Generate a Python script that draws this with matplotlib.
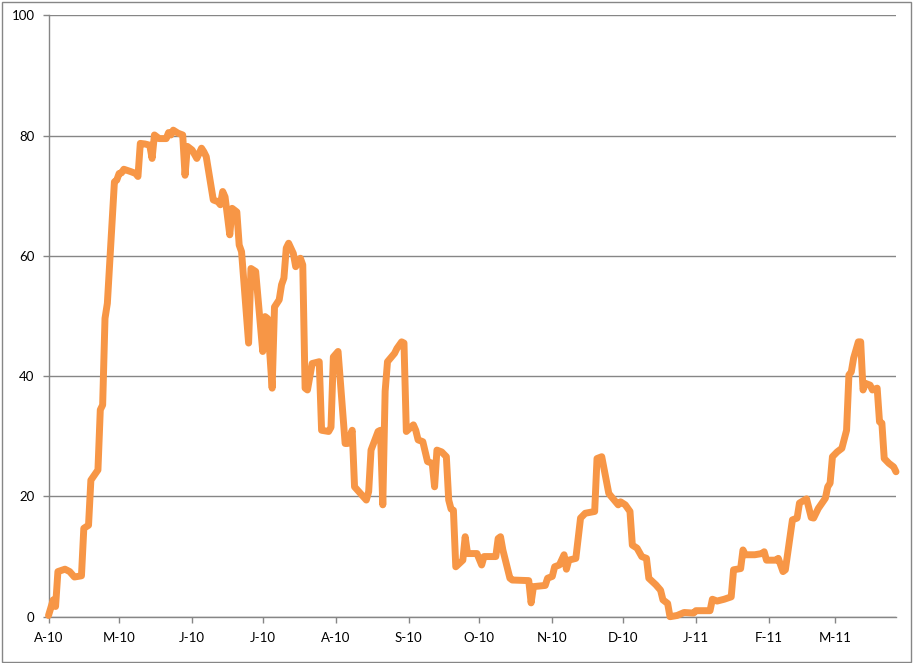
import numpy as np
import pandas as pd
import matplotlib
matplotlib.use('Agg')
import matplotlib.pyplot as plt
import matplotlib.dates as mdates
from matplotlib.patches import Rectangle

# 데이터
dates = [
    '2010-04-01', '2010-04-03', '2010-04-04', '2010-04-05', '2010-04-08', '2010-04-10',
    '2010-04-12', '2010-04-15', '2010-04-16', '2010-04-18', '2010-04-19', '2010-04-22',
    '2010-04-23', '2010-04-24', '2010-04-25', '2010-04-26', '2010-04-29', '2010-04-30',
    '2010-05-01', '2010-05-02', '2010-05-03', '2010-05-06', '2010-05-08', '2010-05-09',
    '2010-05-10', '2010-05-12', '2010-05-14', '2010-05-15', '2010-05-16', '2010-05-18',
    '2010-05-21', '2010-05-22', '2010-05-23', '2010-05-24', '2010-05-26', '2010-05-28',
    '2010-05-29', '2010-05-30', '2010-06-01', '2010-06-03', '2010-06-05', '2010-06-06',
    '2010-06-07', '2010-06-10', '2010-06-12', '2010-06-13', '2010-06-14', '2010-06-15',
    '2010-06-17', '2010-06-18', '2010-06-20', '2010-06-21', '2010-06-22', '2010-06-25',
    '2010-06-26', '2010-06-28', '2010-07-01', '2010-07-02', '2010-07-03', '2010-07-05',
    '2010-07-06', '2010-07-08', '2010-07-09', '2010-07-10', '2010-07-11', '2010-07-12',
    '2010-07-14', '2010-07-15', '2010-07-17', '2010-07-18', '2010-07-19', '2010-07-20',
    '2010-07-22', '2010-07-25', '2010-07-26', '2010-07-29', '2010-07-30', '2010-07-31',
    '2010-08-02', '2010-08-05', '2010-08-06', '2010-08-08', '2010-08-09', '2010-08-14',
    '2010-08-15', '2010-08-16', '2010-08-19', '2010-08-20', '2010-08-21', '2010-08-22',
    '2010-08-23', '2010-08-26', '2010-08-27', '2010-08-29', '2010-08-30', '2010-08-31',
    '2010-09-03', '2010-09-04', '2010-09-05', '2010-09-07', '2010-09-09', '2010-09-11',
    '2010-09-12', '2010-09-13', '2010-09-15', '2010-09-17', '2010-09-18', '2010-09-19',
    '2010-09-20', '2010-09-21', '2010-09-24', '2010-09-25', '2010-09-26', '2010-09-30',
    '2010-10-02', '2010-10-03', '2010-10-08', '2010-10-09', '2010-10-10', '2010-10-11',
    '2010-10-14', '2010-10-15', '2010-10-22', '2010-10-23', '2010-10-24', '2010-10-29',
    '2010-10-30', '2010-11-01', '2010-11-02', '2010-11-04', '2010-11-06', '2010-11-07',
    '2010-11-08', '2010-11-11', '2010-11-13', '2010-11-15', '2010-11-19', '2010-11-20',
    '2010-11-22', '2010-11-25', '2010-11-26', '2010-11-29', '2010-11-30', '2010-12-02',
    '2010-12-04', '2010-12-05', '2010-12-07', '2010-12-09', '2010-12-11', '2010-12-12',
    '2010-12-15', '2010-12-17', '2010-12-18', '2010-12-20', '2010-12-21', '2010-12-24',
    '2010-12-27', '2010-12-31', '2011-01-01', '2011-01-07', '2011-01-08', '2011-01-10',
    '2011-01-13', '2011-01-16', '2011-01-17', '2011-01-20', '2011-01-21', '2011-01-22',
    '2011-01-26', '2011-01-29', '2011-01-30', '2011-01-31', '2011-02-04', '2011-02-05',
    '2011-02-07', '2011-02-08', '2011-02-11', '2011-02-13', '2011-02-14', '2011-02-17',
    '2011-02-19', '2011-02-20', '2011-02-22', '2011-02-25', '2011-02-26', '2011-02-27',
    '2011-02-28', '2011-03-02', '2011-03-04', '2011-03-06', '2011-03-07', '2011-03-08',
    '2011-03-09', '2011-03-11', '2011-03-12', '2011-03-13', '2011-03-14', '2011-03-16',
    '2011-03-17', '2011-03-19', '2011-03-20', '2011-03-21', '2011-03-22', '2011-03-24',
    '2011-03-26', '2011-03-27',
]
values = [
    0.2, 2.8, 1.7, 7.5, 7.9, 7.5,
    6.6, 6.8, 14.7, 15.2, 22.7, 24.4,
    34.4, 35.2, 49.6, 52.1, 72.3, 72.6,
    73.7, 73.8, 74.4, 74.0, 73.7, 73.2,
    78.7, 78.6, 78.4, 76.2, 80.1, 79.5,
    79.5, 80.5, 80.1, 80.9, 80.4, 80.1,
    73.4, 78.2, 77.6, 76.2, 77.9, 77.3,
    76.5, 69.3, 69.0, 68.5, 70.7, 69.8,
    63.5, 67.9, 67.3, 61.8, 60.7, 45.5,
    57.9, 57.4, 44.1, 49.9, 49.6, 38.0,
    51.5, 52.7, 55.2, 56.3, 61.3, 62.1,
    60.4, 58.2, 59.6, 58.5, 38.0, 37.7,
    42.1, 42.4, 31.0, 30.8, 31.5, 43.2,
    44.1, 28.8, 28.8, 31.0, 21.6, 19.4,
    20.8, 27.7, 30.8, 31.0, 18.6, 37.5,
    42.4, 43.8, 44.6, 45.7, 45.5, 30.8,
    31.9, 31.0, 29.4, 29.1, 25.8, 25.5,
    21.6, 27.7, 27.4, 26.6, 19.4, 17.9,
    17.7, 8.3, 9.4, 13.3, 10.5, 10.5,
    8.6, 10.0, 10.0, 13.0, 13.3, 11.1,
    6.4, 6.1, 6.0, 2.3, 5.0, 5.2,
    6.4, 6.7, 8.3, 8.6, 10.3, 7.9,
    9.4, 9.7, 16.4, 17.2, 17.5, 26.3,
    26.6, 20.5, 20.0, 18.6, 19.1, 18.6,
    17.5, 11.9, 11.4, 10.0, 9.7, 6.4,
    5.3, 4.4, 2.8, 2.2, 0.0, 0.2,
    0.7, 0.6, 1.0, 1.0, 2.9, 2.6,
    2.9, 3.3, 7.8, 8.0, 11.1, 10.3,
    10.3, 10.5, 10.8, 9.4, 9.4, 9.7,
    7.5, 7.8, 16.1, 16.4, 18.9, 19.6,
    16.5, 16.4, 18.0, 19.7, 21.6, 22.2,
    26.6, 27.4, 28.0, 31.0, 40.2, 40.7,
    43.0, 45.7, 45.7, 37.7, 38.8, 38.5,
    37.7, 38.0, 32.4, 32.2, 26.3, 25.5,
    24.9, 24.1,
]
tick_labels = ['A-10', 'M-10', 'J-10', 'J-10', 'A-10', 'S-10',
               'O-10', 'N-10', 'D-10', 'J-11', 'F-11', 'M-11']
y_ticks = [0, 20, 40, 60, 80, 100]

df = pd.DataFrame({'Date': pd.to_datetime(dates), 'Value': values})

grey = '#868686'
plt.rcParams['font.family'] = ['Lato', 'DejaVu Sans']

fig = plt.figure(figsize=(9.13, 6.63), dpi=100)
# 차트 영역 테두리
fig.patches.append(Rectangle((1.5 / 913, 1.5 / 663), 909.5 / 913, 660 / 663,
                             transform=fig.transFigure, fill=False,
                             edgecolor=grey, linewidth=1))

ax = fig.add_axes([48.5 / 913, 46.3 / 663, (896 - 48.5) / 913, (616.7 - 15.3) / 663])
ax.plot(df['Date'], df['Value'], color='#F79646', linewidth=5,
        solid_joinstyle='round', solid_capstyle='round', clip_on=False, zorder=3)

ax.set_ylim(0, 100)
ax.set_yticks(y_ticks)
ax.set_xlim(df['Date'].iloc[0], df['Date'].iloc[-1])
tick_dates = pd.date_range('2010-04-01', periods=len(tick_labels), freq='MS')
ax.set_xticks(tick_dates)
ax.set_xticklabels(tick_labels)

ax.grid(axis='y', color=grey, linewidth=1)
ax.set_axisbelow(True)
for s in ['top', 'right']:
    ax.spines[s].set_visible(False)
for s in ['left', 'bottom']:
    ax.spines[s].set_color(grey)
    ax.spines[s].set_linewidth(1)
ax.tick_params(axis='both', colors=grey, labelcolor='black', length=4, width=1,
               labelsize=9.5)
ax.tick_params(axis='x', pad=7)
ax.tick_params(axis='y', pad=6)

fig.savefig('out.png', dpi=100)
